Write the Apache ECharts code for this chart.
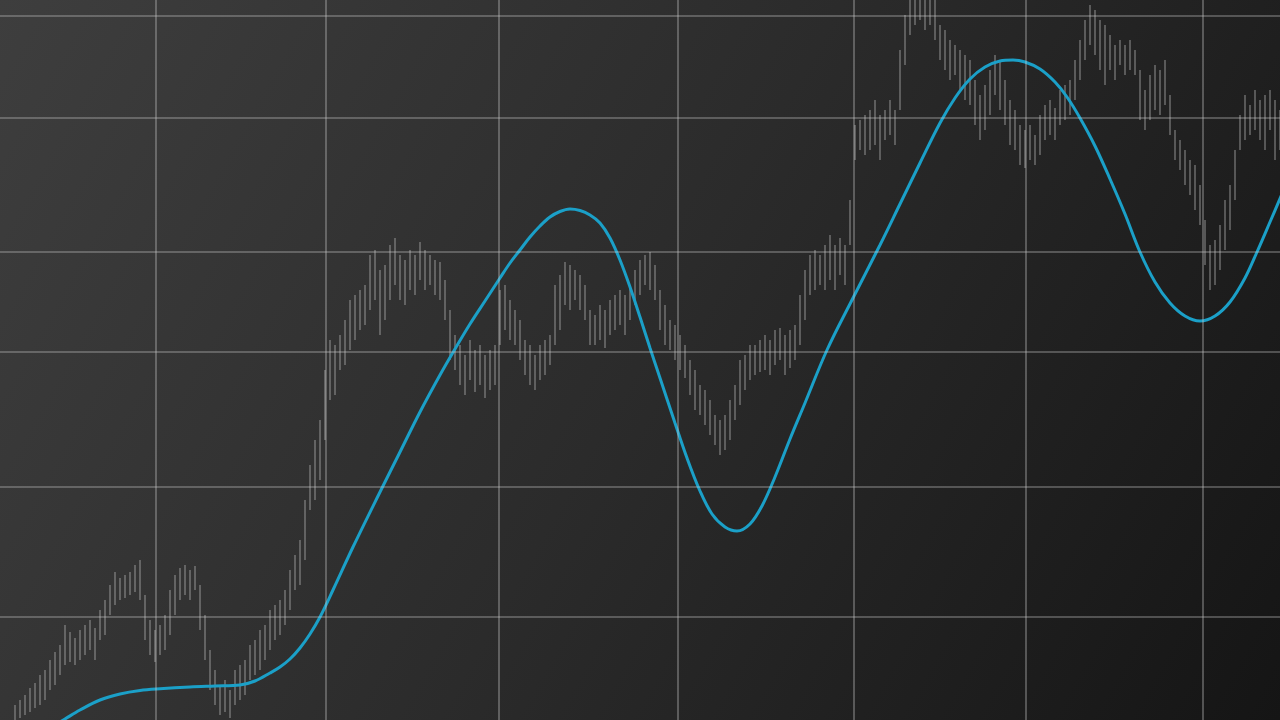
<!DOCTYPE html>
<html>
<head>
<meta charset="utf-8">
<style>html,body{margin:0;padding:0;background:#222;}#chart{width:1280px;height:720px;}</style>
<script src="https://cdn.jsdelivr.net/npm/echarts@6/dist/echarts.min.js"></script>
</head>
<body>
<div id="chart"></div>
<script>
// Price bars (one per day), first bar on day 3
var firstDay = 3;
var barLow = [
0.0,0.2,0.5,0.8,1.2,1.5,2.0,3.0,3.5,4.5,
5.5,5.8,5.5,6.0,6.5,7.0,6.0,8.0,8.5,10.5,
11.5,12.0,12.2,12.5,12.8,12.0,8.0,6.5,5.8,6.5,
7.0,8.5,10.5,12.0,12.5,12.0,13.0,9.0,6.0,3.0,
1.5,0.5,0.8,0.2,1.5,2.0,2.5,4.0,4.5,5.0,
6.0,7.0,8.0,8.5,9.5,11.0,13.0,13.5,16.0,21.0,
22.0,24.0,28.0,32.0,32.5,35.0,35.5,37.0,38.0,39.0,
39.5,41.0,42.0,38.5,40.0,42.0,43.5,42.0,41.5,43.0,
42.5,44.0,43.0,43.5,42.5,42.0,40.0,36.0,35.0,33.5,
32.5,34.0,32.8,33.5,32.2,33.0,33.5,37.5,39.0,38.0,
37.5,36.0,34.5,33.5,33.0,34.0,34.5,35.5,37.5,39.0,
41.5,41.0,42.0,41.0,40.0,37.5,37.5,38.0,37.2,38.5,
39.0,39.5,38.5,40.0,41.5,42.5,43.5,43.0,42.0,39.0,
37.5,37.0,36.0,35.0,34.2,32.5,31.0,30.5,29.5,28.5,
27.5,26.5,27.0,28.0,30.0,31.5,33.0,34.0,34.5,34.8,
35.0,34.5,35.5,36.0,34.5,35.2,36.0,37.5,40.0,42.5,
43.0,43.5,43.0,44.0,43.0,44.5,43.5,47.5,56.0,57.0,
56.5,57.0,57.5,56.0,58.0,58.5,57.5,61.0,65.5,68.5,
69.5,70.0,69.0,69.5,68.0,66.0,65.0,64.0,64.5,63.0,
62.0,61.5,59.5,58.0,59.0,60.5,62.5,61.0,59.5,57.5,
57.0,55.5,55.2,56.0,55.5,56.5,58.0,58.5,58.0,59.5,
60.0,60.5,62.0,64.0,66.0,67.5,66.5,65.0,63.5,65.0,
64.0,65.5,64.5,65.0,64.5,60.0,59.0,60.0,61.0,60.5,
61.5,58.5,56.0,55.0,53.5,52.5,51.0,49.5,45.5,43.0,
43.5,45.0,47.0,49.0,52.0,57.0,58.0,58.5,59.0,58.0,
57.0,59.0,56.0,57.0
];
var barHigh = [
1.5,2.0,2.5,3.2,3.7,4.5,5.0,6.0,6.8,7.5,
9.5,8.8,8.2,9.0,9.5,10.0,9.2,11.0,12.0,13.5,
14.8,14.2,14.5,14.8,15.5,16.0,12.5,10.0,9.0,9.5,
10.5,13.0,14.5,15.2,15.5,15.0,15.4,13.5,10.5,7.0,
5.0,3.5,4.0,3.0,5.0,5.5,6.0,7.5,8.0,9.0,
9.5,11.0,11.5,12.0,13.0,15.0,16.5,18.0,22.0,25.5,
28.0,30.0,35.0,38.0,37.5,38.5,40.0,42.0,42.5,43.0,
43.5,46.5,47.0,45.0,45.5,47.5,48.2,46.5,46.0,47.0,
46.5,47.8,47.0,46.5,46.0,45.8,44.0,41.0,38.5,37.5,
36.5,38.0,37.0,37.5,36.5,37.0,37.5,43.0,43.5,42.0,
41.0,40.0,38.0,37.5,36.5,37.5,38.0,38.5,43.5,44.5,
45.8,45.5,45.0,44.5,43.5,41.0,40.5,41.5,41.0,42.0,
42.5,43.0,42.5,43.5,45.0,46.0,46.5,46.8,45.5,43.0,
41.5,40.0,39.5,38.5,37.5,36.0,35.0,33.5,33.0,32.0,
30.5,30.0,30.5,32.0,33.5,36.0,36.5,37.5,37.5,38.0,
38.5,38.0,39.0,39.2,38.5,39.0,39.5,42.5,45.0,46.5,
47.0,46.5,47.5,48.5,47.5,48.2,47.5,52.0,59.5,60.0,
60.5,61.0,62.0,60.5,61.0,62.0,61.0,67.0,70.5,72.0,
73.0,73.0,72.5,73.0,72.0,69.5,69.0,68.0,67.5,67.0,
66.5,66.0,64.0,62.5,63.5,65.0,66.5,66.0,64.0,62.0,
61.0,59.5,59.0,59.5,58.5,60.5,61.5,62.0,61.2,63.0,
63.5,64.0,66.0,68.0,70.0,71.5,71.0,70.0,69.5,68.5,
67.5,68.0,67.5,68.0,67.0,65.0,63.0,64.5,65.5,65.0,
66.0,62.5,59.0,58.0,57.0,56.0,55.5,53.5,50.0,47.5,
48.0,49.5,52.0,53.5,57.0,60.5,62.5,61.5,63.0,62.0,
62.5,63.0,62.0,61.0
];
// Smooth trend curve: [day, value]
var trend = [
[10,-0.8],[13,0.1],[16,1.0],[20,2.0],[24,2.6],[28,2.95],[32,3.12],[38,3.3],[43,3.4],[48,3.5],
[51,3.9],[54,4.7],[56,5.3],[58,6.1],[60,7.2],[62,8.6],[64,10.3],[66.6,13.0],[70.6,17.3],[76,22.8],
[80,26.8],[84,30.8],[88,34.5],[91,37.1],[94,39.6],[97,41.9],[100,44.2],[102,45.7],[104,47.0],[106,48.3],
[108,49.4],[110,50.3],[112,50.85],[114,51.1],[116,50.95],[118,50.5],[120,49.7],[122,48.2],[124,46.0],[126,43.3],
[128,40.3],[130,37.2],[132,34.2],[135,29.7],[137.4,26.2],[140,22.9],[142.4,20.6],[145,19.3],[147.4,18.9],[150,19.6],
[152.4,21.4],[155,24.3],[158,28.1],[161,31.7],[165.4,37.0],[170.6,42.2],[176,47.5],[180,51.6],[184,55.7],[188,59.7],
[191,62.2],[194,64.1],[197,65.3],[200,65.9],[202.6,66.0],[205,65.8],[208,65.1],[211,63.8],[213.4,62.3],[216,60.2],
[219,57.4],[222,54.1],[225,50.6],[228,46.8],[231,43.8],[234,41.7],[237,40.4],[240,39.9],[243,40.4],[246,41.8],
[249,44.2],[251.4,46.8],[254,49.8],[256.4,52.6]
];
// Grid line positions
var gridDays = [31.2, 65.2, 99.66, 135.46, 170.66, 205.2, 240.54];
var gridValues = [70.4, 60.25, 46.83, 36.83, 23.33, 10.33];

var bars = barLow.map(function (lo, i) { return [firstDay + i, lo, barHigh[i]]; });

var markData = gridDays.map(function (d) { return { xAxis: d }; })
  .concat(gridValues.map(function (v) { return { yAxis: v }; }));

var chart = echarts.init(document.getElementById('chart'));
chart.setOption({
  animation: false,
  backgroundColor: {
    type: 'linear', x: 0, y: 0, x2: 1, y2: 1,
    colorStops: [
      { offset: 0, color: '#3e3e3e' },
      { offset: 0.5, color: '#2b2b2b' },
      { offset: 1, color: '#151515' }
    ]
  },
  grid: { left: 0, right: 0, top: 0, bottom: 0 },
  xAxis: { type: 'value', min: 0, max: 256, show: false },
  yAxis: { type: 'value', min: 0, max: 72, show: false },
  series: [
    {
      type: 'line',
      data: [],
      silent: true,
      z: 1,
      markLine: {
        silent: true,
        symbol: 'none',
        animation: false,
        label: { show: false },
        lineStyle: { color: 'rgba(205,205,205,0.42)', width: 1.6, type: 'solid' },
        data: markData
      }
    },
    {
      type: 'custom',
      z: 2,
      silent: true,
      data: bars,
      renderItem: function (params, api) {
        var x = api.value(0);
        var p1 = api.coord([x, api.value(1)]);
        var p2 = api.coord([x, api.value(2)]);
        return {
          type: 'line',
          shape: { x1: p1[0], y1: p1[1], x2: p2[0], y2: p2[1] },
          style: { stroke: 'rgba(180,180,180,0.55)', lineWidth: 1.4 }
        };
      }
    },
    {
      type: 'line',
      z: 3,
      data: trend,
      smooth: 0.35,
      symbol: 'none',
      lineStyle: { color: '#1ba0c8', width: 3 }
    }
  ]
});
</script>
</body>
</html>
